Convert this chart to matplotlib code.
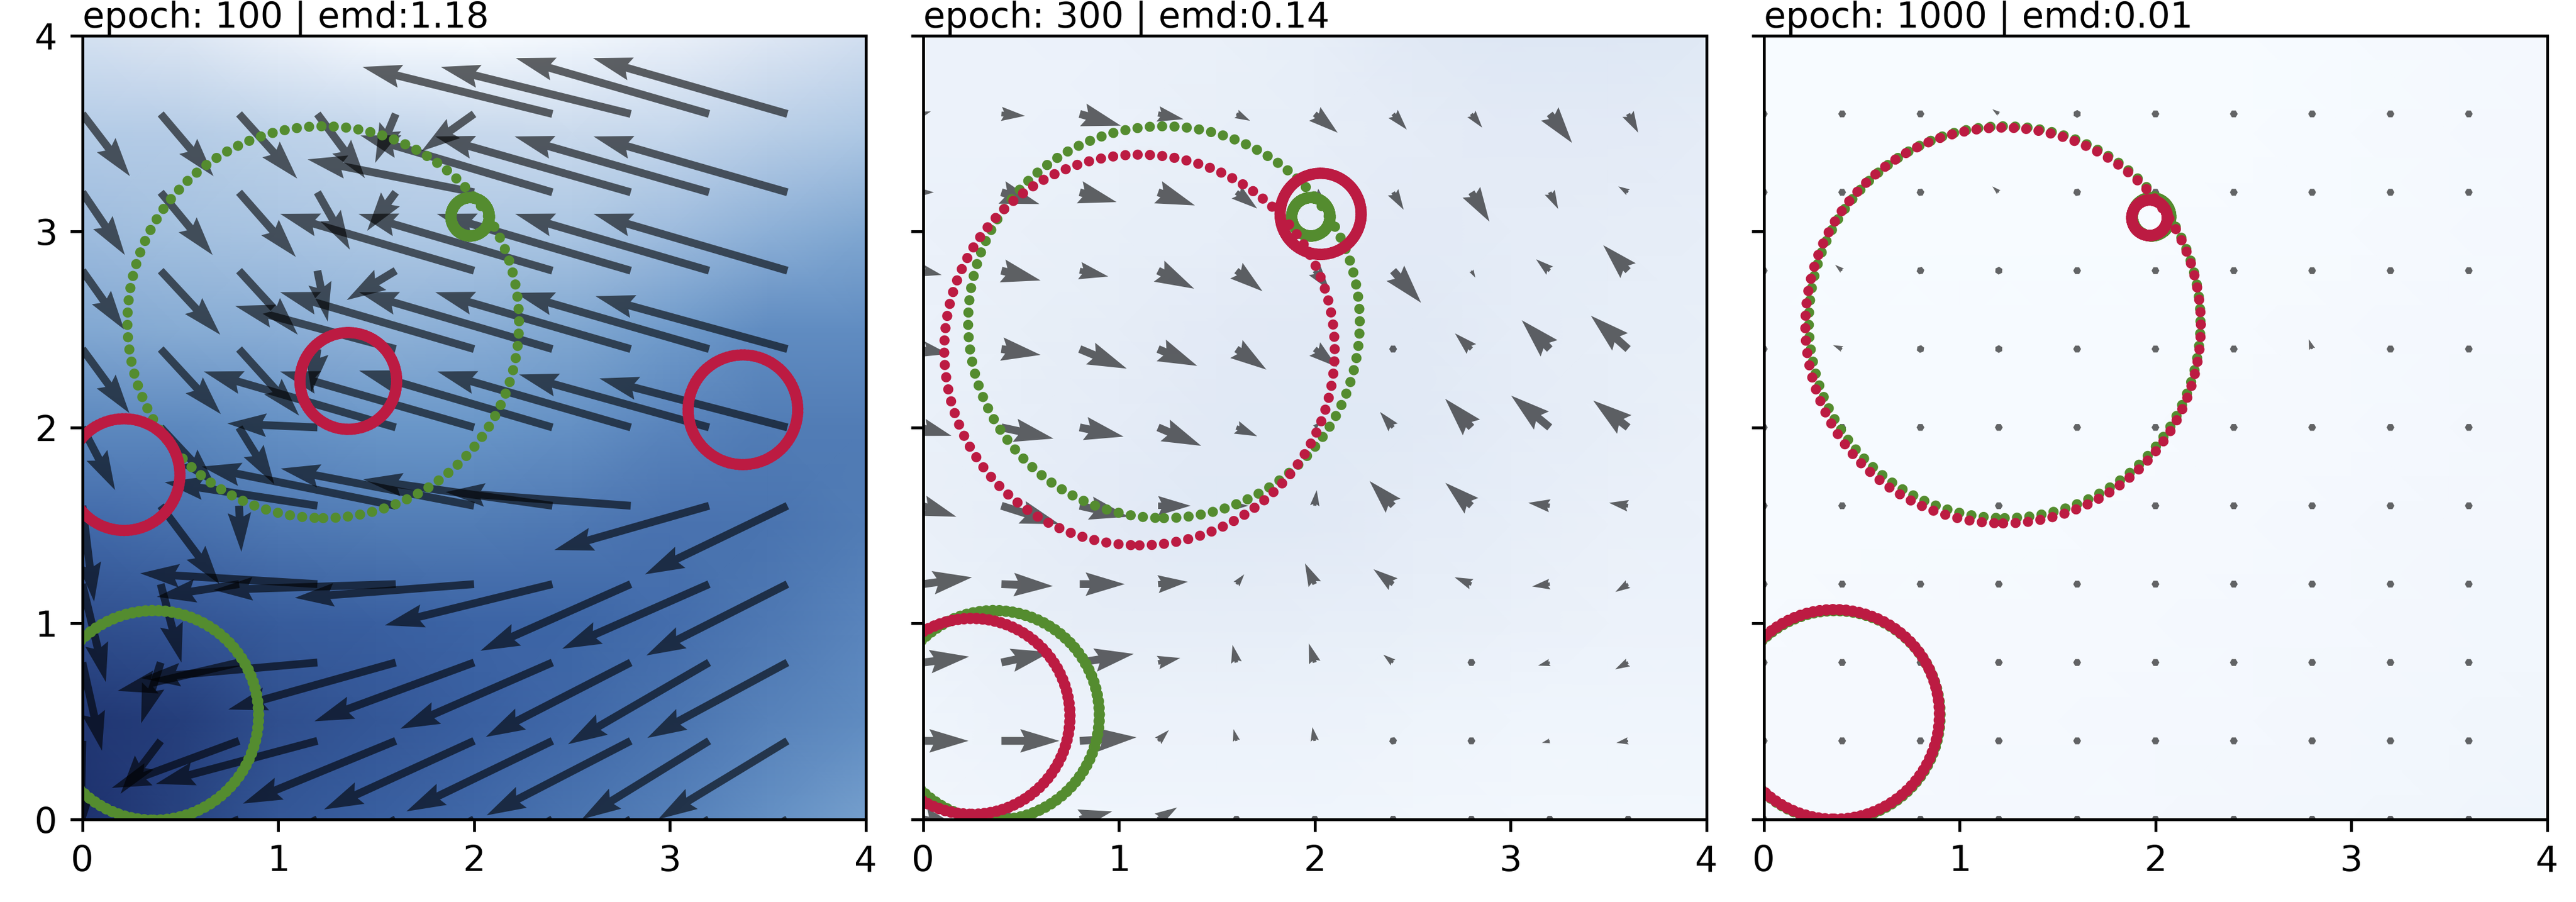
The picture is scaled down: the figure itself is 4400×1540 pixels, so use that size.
import numpy as np
import matplotlib
matplotlib.use('Agg')
import matplotlib.pyplot as plt
from matplotlib.colors import LinearSegmentedColormap
from matplotlib.patches import Circle

plt.rcParams['lines.scale_dashes'] = False

titles = ['epoch: 100 | emd:1.18', 'epoch: 300 | emd:0.14', 'epoch: 1000 | emd:0.01']
ticks = [0, 1, 2, 3, 4]

# arrow grid
grid_x = [0, 0.4, 0.8, 1.2, 1.6, 2.0, 2.4, 2.8, 3.2, 3.6]
grid_y = [3.6, 3.2, 2.8, 2.4, 2.0, 1.6, 1.2, 0.8, 0.4, 0.0]

# arrows, first row is the top one
u_100 = [
    [.243, .27, .297, .243, -.105, -.268, -.97, -.97, -.987, -.993],
    [.217, .265, .29, .166, -.146, -.85, -.98, -.998, -.993, -.99],
    [.213, .304, .30, .053, -.25, -.99, -.99, -.99, -.99, -.99],
    [.24, .307, .307, -.03, -.82, -.99, -.987, -.998, -.99, -.98],
    [.167, .28, .18, -.46, -.98, -.99, -.987, -.987, -.97, -.96],
    [.06, .30, .012, -.78, -.99, -.987, -.966, -.945, -.79, -.727],
    [.12, .106, -.42, -.905, -.93, -.915, -.855, -.767, -.75, -.72],
    [.10, -.10, -.62, -.90, -.855, -.815, -.776, -.74, -.72, -.715],
    [-.01, -.205, -.65, -.825, -.78, -.766, -.745, -.736, -.65, -.66],
    [0, -.25, -.6, -.6, -.6, -.6, -.6, -.6, -.6, -.6],
]
v_100 = [
    [-.318, -.318, -.33, -.328, -.25, -.19, .24, .24, .285, .285],
    [-.32, -.32, -.33, -.293, -.197, .168, .29, .285, .285, .285],
    [-.30, -.327, -.327, -.26, -.15, .29, .29, .29, .29, .29],
    [-.327, -.332, -.34, -.22, .22, .29, .29, .29, .287, .27],
    [-.32, -.30, -.29, .02, .285, .285, .29, .285, .27, .25],
    [-.49, -.40, -.235, .12, .20, .19, .135, .07, -.226, -.35],
    [-.50, -.40, -.065, .055, -.03, -.07, -.21, -.34, -.33, -.364],
    [-.45, -.31, -.145, -.08, -.24, -.30, -.338, -.38, -.417, -.385],
    [-.48, -.27, -.24, -.22, -.32, -.35, -.36, -.38, -.40, -.40],
    [-.4, -.28, -.25, -.3, -.33, -.33, -.33, -.35, -.35, -.35],
]
u_300 = [
    [.04, .12, .21, .13, .07, .117, .07, .055, .114, .052],
    [.055, .194, .188, .188, .106, .06, .054, .092, .043, -.05],
    [.095, .20, .146, .184, .133, .076, .143, .02, -.07, -.127],
    [.13, .20, .24, .20, .153, .115, 0, -.084, -.143, -.19],
    [.145, .266, .224, .22, .106, .03, -.067, -.134, -.197, -.178],
    [.17, .296, .25, .166, .06, .01, -.12, -.133, -.11, -.097],
    [.25, .263, .23, .152, .04, -.05, -.10, -.086, -.09, -.065],
    [.235, .25, .276, .113, -.02, -.03, -.05, -.04, -.06, -.066],
    [.232, .296, .29, .055, -.015, -.012, -.022, 0, -.04, -.06],
    [.2, .15, .166, .097, 0, 0, 0, 0, 0, 0],
]
v_300 = [
    [.013, -.01, -.06, -.027, -.035, -.096, -.08, -.07, -.148, -.096],
    [0, -.06, -.05, -.067, -.083, -.06, -.089, -.15, -.085, .03],
    [-.022, -.05, -.03, -.092, -.105, -.10, -.164, -.036, .058, .13],
    [-.025, -.03, -.10, -.086, -.105, -.092, 0, .08, .147, .17],
    [-.043, -.057, -.047, -.094, -.045, .03, .079, .146, .162, .137],
    [-.056, -.094, -.056, 0, 0, .08, .126, .117, .015, .015],
    [.035, -.01, 0, .012, .05, .106, .076, .035, -.012, -.04],
    [.03, .053, .044, .023, .09, .097, .04, 0, -.016, -.035],
    [0, 0, .018, .055, .06, .07, .026, 0, -.01, -.01],
    [-.05, .0, .04, .06, 0, 0, 0, 0, 0, 0],
]
u_1000 = [
    [0, 0, 0, -.033, -.033, 0, 0, 0, 0, 0],
    [0, 0, -.022, -.033, -.022, 0, 0, 0, 0, 0],
    [0, -.036, -.025, -.03, 0, 0, 0, 0, 0, 0],
    [0, -.047, -.03, -.033, 0, 0, 0, -.017, 0, 0],
    [0, 0, 0, 0, 0, 0, 0, 0, 0, 0],
    [0, 0, 0, 0, 0, 0, 0, 0, 0, 0],
    [0, 0, 0, 0, 0, 0, 0, 0, 0, 0],
    [0, 0, 0, 0, 0, 0, 0, 0, 0, 0],
    [0, 0, 0, 0, 0, 0, 0, 0, 0, 0],
    [0, 0, 0, 0, 0, 0, 0, 0, 0, 0],
]
v_1000 = [
    [0, 0, 0, .024, .02, 0, 0, 0, 0, 0],
    [0, 0, .03, .03, .026, 0, 0, 0, 0, 0],
    [0, .03, .03, .02, 0, 0, 0, 0, 0, 0],
    [0, .02, .024, .02, 0, 0, 0, .05, 0, 0],
    [0, 0, 0, 0, 0, 0, 0, 0, 0, 0],
    [0, 0, 0, 0, 0, 0, 0, 0, 0, 0],
    [0, 0, 0, 0, 0, 0, 0, 0, 0, 0],
    [0, 0, 0, 0, 0, 0, 0, 0, 0, 0],
    [0, 0, 0, 0, 0, 0, 0, 0, 0, 0],
    [0, 0, 0, 0, 0, 0, 0, 0, 0, 0],
]

# background field, first row is y=4
field_x = [0, .5, 1, 1.5, 2, 2.5, 3, 3.5, 4]
field_y = [4, 3.5, 3, 2.5, 2, 1.5, 1, .5, 0]
field_100 = [
    [.13, .10, .05, .01, 0, .02, .05, .09, .14],
    [.26, .25, .22, .20, .18, .17, .19, .24, .28],
    [.34, .32, .30, .28, .28, .29, .34, .41, .46],
    [.45, .43, .42, .40, .42, .46, .52, .60, .60],
    [.62, .62, .58, .55, .55, .58, .64, .68, .68],
    [.77, .74, .70, .68, .68, .70, .73, .72, .68],
    [.88, .86, .83, .82, .80, .79, .75, .70, .64],
    [.98, .95, .88, .85, .82, .78, .72, .65, .60],
    [1.0, .93, .85, .82, .78, .72, .66, .58, .50],
]
field_300 = [
    [.04, .04, .045, .05, .06, .08, .09, .09, .085],
    [.04, .04, .045, .055, .06, .07, .075, .075, .07],
    [.045, .05, .055, .06, .07, .075, .07, .065, .06],
    [.045, .055, .065, .075, .08, .08, .07, .06, .055],
    [.05, .06, .07, .08, .085, .08, .07, .06, .05],
    [.05, .06, .075, .085, .08, .07, .06, .05, .045],
    [.04, .055, .065, .065, .06, .055, .05, .04, .04],
    [.03, .04, .04, .04, .04, .035, .03, .03, .03],
    [.025, .03, .03, .03, .03, .025, .02, .02, .02],
]
field_1000 = [
    [0, 0, 0, 0, 0, .003, .005, .01, .012],
    [0, 0, 0, 0, 0, .003, .006, .01, .012],
    [.002, .002, .002, .002, .002, .004, .007, .011, .013],
    [.004, .004, .004, .004, .004, .006, .009, .012, .015],
    [.005, .005, .005, .005, .006, .008, .011, .014, .017],
    [.006, .006, .006, .007, .008, .01, .013, .016, .019],
    [.007, .008, .008, .009, .01, .012, .015, .018, .022],
    [.009, .009, .01, .011, .012, .015, .018, .021, .025],
    [.01, .01, .012, .013, .015, .018, .02, .025, .028],
]

# rings as (center x, center y, radius)
green_100 = [(1.23, 2.537, 1.0), (1.98, 3.075, .098), (.365, .53, .535)]
red_100 = [(.213, 1.759, .285), (1.358, 2.237, .247), (3.373, 2.09, .28)]
green_300 = [(1.23, 2.537, 1.0), (1.98, 3.075, .098), (.365, .53, .535)]
red_300 = [(1.105, 2.395, .997), (2.03, 3.09, .207), (.25, .525, .5)]
green_1000 = [(1.23, 2.537, 1.0), (1.98, 3.075, .098), (.365, .53, .535)]
red_1000 = [(1.222, 2.52, 1.01), (1.97, 3.07, .091), (.362, .535, .535)]

GREEN = '#548C2F'
RED = '#BC1B42'
N_DOTS = 100

cmap = LinearSegmentedColormap.from_list('field', [
    (0, '#f7fbff'), (.08, '#e1e9f5'), (.3, '#a9c4e2'), (.55, '#6996c8'), (.8, '#3c64a5'), (1, '#1e326e')])

panels = [
    (field_100, u_100, v_100, green_100, red_100),
    (field_300, u_300, v_300, green_300, red_300),
    (field_1000, u_1000, v_1000, green_1000, red_1000),
]


def draw_rings(ax, rings, color, zorder):
    # ring of points: a dotted circle line gives the dots
    pt_per_unit = 334.5 * 72 / 440
    for cx, cy, r in rings:
        period = 2 * np.pi * r * pt_per_unit / N_DOTS
        # dense rings read a little wider than the single dots
        lw = 3.2 if r < 0.8 else 2.85
        ax.add_patch(Circle((cx, cy), r, fill=False, edgecolor=color, linewidth=lw,
                            linestyle=(0, (0.01, period)), capstyle='round', zorder=zorder))


fig, axes = plt.subplots(1, 3, figsize=(10, 3.5), dpi=440, sharey=True)
fig.subplots_adjust(left=140.7 / 4400, right=4350.7 / 4400, bottom=1 - 1398.7 / 1540, top=1 - 60.7 / 1540,
                    wspace=98 / 1338)

X, Y = np.meshgrid(grid_x, grid_y)
FX, FY = np.meshgrid(field_x, field_y)

for ax, title, (field, u, v, green, red) in zip(axes, titles, panels):
    ax.pcolormesh(FX, FY, np.array(field), shading='gouraud', cmap=cmap, vmin=0, vmax=1, zorder=1)
    ax.quiver(X, Y, np.array(u), np.array(v), angles='xy', scale_units='xy', scale=1,
              width=0.01, color='k', alpha=0.6, zorder=2)
    draw_rings(ax, green, GREEN, 3)
    draw_rings(ax, red, RED, 4)
    ax.set_xlim(0, 4)
    ax.set_ylim(0, 4)
    ax.set_xticks(ticks)
    ax.set_yticks(ticks)
    for spine in ax.spines.values():
        spine.set_zorder(5)
    ax.set_title(title, loc='left', fontsize=10, pad=2.2)

plt.savefig('out.png', dpi=440)
